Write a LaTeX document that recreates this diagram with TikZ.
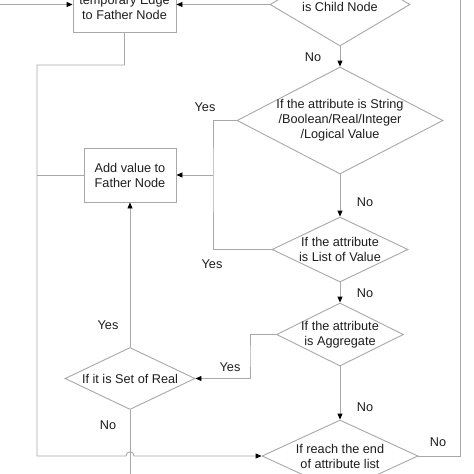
\documentclass[tikz,border=0pt]{standalone}
\usepackage{fontspec}
\setmainfont{Liberation Sans}
\usetikzlibrary{shapes.geometric,arrows.meta}
\definecolor{lc}{HTML}{A8A8A8}
\definecolor{tc}{HTML}{1E1E1E}
\begin{document}
\begin{tikzpicture}[x=1pt,y=-1pt,
  every node/.style={font=\fontsize{12.7}{15}\selectfont, text=tc},
  line/.style={draw=lc, line width=0.9pt},
  arr/.style={line, -{Triangle[length=6pt,width=5pt,color=black]}},
  dia/.style={shape=diamond, draw=lc, line width=0.9pt, inner sep=0pt},
  box/.style={draw=lc, line width=0.9pt, align=center, inner sep=0pt},
  lbl/.style={align=center, inner sep=0pt},
  tag/.style={inner sep=0pt}]
\clip (0,0) rectangle (474,474);
\fill[white] (0,0) rectangle (474,474);
% boxes
\node[box, minimum width=103pt, minimum height=55pt] (tb) at (124.5,4.5) {\mbox{}\\temporary Edge\\to Father Node};
\node[box, minimum width=92pt, minimum height=54pt] (av) at (130,175) {Add value to\\Father Node};
% diamonds
\node[dia, minimum width=140pt, minimum height=83pt, label={[lbl]center:{\mbox{}\\is Child Node}}] (d1) at (340,4.5) {};
\node[dia, minimum width=206pt, minimum height=107pt, label={[lbl]center:{If the attribute is String\\/Boolean/Real/Integer\\/Logical Value}}] (d2) at (340,120.5) {};
\node[dia, minimum width=136pt, minimum height=65pt, label={[lbl]center:{If the attribute\\is List of Value}}] (d3) at (340,249.5) {};
\node[dia, minimum width=127pt, minimum height=63pt, label={[lbl]center:{If the attribute\\is Aggregate}}] (d4) at (340,334.5) {};
\node[dia, minimum width=156pt, minimum height=72pt, label={[lbl]center:{If reach the end\\of attribute list}}] (d5) at (340,456) {};
\node[dia, minimum width=130pt, minimum height=62pt, label={[lbl]center:{If it is Set of Real}}] (d6) at (130,378.5) {};
% coordinates
\coordinate (lin) at (-5,4.5);
\coordinate (ym) at (213,175);
\coordinate (ag) at (250,356);
\coordinate (jn) at (37,175);
\coordinate (bot) at (130,480);
\coordinate (rtop) at (460,-5);
% connectors
\draw[arr] (lin) -- (tb.west);
\draw[arr] (d1.west) -- (tb.east);
\draw[arr] (d1.south) -- (d2.north);
\draw[arr] (d2.south) -- (d3.north);
\draw[arr] (d3.south) -- (d4.north);
\draw[arr] (d4.south) -- (d5.north);
\draw[line] (d2.west) -| (ym) |- (d3.west);
\draw[arr] (ym) -- (av.east);
\draw[arr] (d4.west) -| (ag) |- (d6.east);
\draw[arr] (d6.north) -- (av.south);
\draw[line] (d6.south) -- (bot);
\draw[line] (av.west) -- (jn);
\draw[arr] (tb.south) -- (124.5,65) -- (37,65) -- (37,456) -- (126,456) .. controls (126,450.5) and (134,450.5) .. (134,456) -- (d5.west);
\draw[line] (d5.east) -| (rtop);
% labels
\node[tag] (n1) at (313,57) {No};
\node[tag] (y1) at (205,107) {Yes};
\node[tag] (n2) at (365,202) {No};
\node[tag] (y2) at (212,264) {Yes};
\node[tag] (n3) at (365,293) {No};
\node[tag] (y3) at (108,325) {Yes};
\node[tag] (y4) at (230,367) {Yes};
\node[tag] (n4) at (365,407) {No};
\node[tag] (n5) at (108,425) {No};
\node[tag] (n6) at (438,442) {No};
\end{tikzpicture}
\end{document}
